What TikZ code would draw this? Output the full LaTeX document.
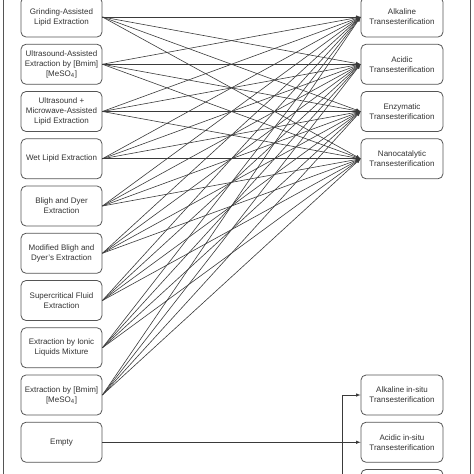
\documentclass[tikz,border=0pt]{standalone}
\usepackage{fontspec}
\setmainfont{Liberation Sans}
\usetikzlibrary{arrows.meta}

\definecolor{linegray}{HTML}{3A3A3A}
\definecolor{boxgray}{HTML}{555555}

\tikzset{
  method/.style={draw=boxgray, rounded corners=5pt, fill=white,
    minimum width=81pt, minimum height=40pt, inner sep=1pt,
    align=center, text=black!80, line width=0.8pt,
    font=\fontsize{8}{10}\selectfont},
  link/.style={->, >=latex, draw=linegray, line width=0.6pt}
}

\begin{document}
\begin{tikzpicture}[x=1pt, y=-1pt]
\useasboundingbox (0,0) rectangle (474,474);
\clip (0,0) rectangle (474,474);

\def \firsty {17}
\def \rowgap {47.25}
\def \leftx {61.5}
\def \rightx {402}

% outer frame
\draw[boxgray, line width=0.8pt] (3,-10) rectangle (470,490);

% extraction methods
\foreach \name/\txt [count=\i] in {
  grind/{Grinding-Assisted\\Lipid Extraction},
  usbmim/{Ultrasound-Assisted\\Extraction by [Bmim]\\{}[MeSO\textsubscript{4}]},
  usmw/{Ultrasound +\\Microwave-Assisted\\Lipid Extraction},
  wet/{Wet Lipid Extraction},
  bligh/{Bligh and Dyer\\Extraction},
  modbligh/{Modified Bligh and\\Dyer's Extraction},
  scf/{Supercritical Fluid\\Extraction},
  ionic/{Extraction by Ionic\\Liquids Mixture},
  bmim/{Extraction by [Bmim]\\{}[MeSO\textsubscript{4}]},
  empty/{Empty}}
{
  \node[method] (\name) at (\leftx, {\firsty + \rowgap*(\i-1)}) {\txt};
}

% transesterification routes
\foreach \name/\txt [count=\i] in {
  alk/{Alkaline\\Transesterification},
  acid/{Acidic\\Transesterification},
  enz/{Enzymatic\\Transesterification},
  nano/{Nanocatalytic\\Transesterification}}
{
  \node[method, minimum width=82pt] (\name) at (\rightx, {\firsty + \rowgap*(\i-1)}) {\txt};
}

% in-situ routes
\node[method, minimum width=82pt] (alkins) at (\rightx, {\firsty + \rowgap*8}) {Alkaline in-situ\\Transesterification};
\node[method, minimum width=82pt] (acidins) at (\rightx, {\firsty + \rowgap*9}) {Acidic in-situ\\Transesterification};
\node[method, minimum width=82pt] (nextins) at (\rightx, {\firsty + \rowgap*10}) {};

% every method to every route
\foreach \s in {grind,usbmim,usmw,wet,bligh,modbligh,scf,ionic,bmim}
{
  \foreach \t in {alk,acid,enz,nano}
    \draw[link] (\s.east) -- (\t.west);
}

\draw[link] (empty.east) -- (acidins.west);
\coordinate (insitu) at (342,490);
\draw[link] (insitu) |- (alkins.west);

\end{tikzpicture}
\end{document}
